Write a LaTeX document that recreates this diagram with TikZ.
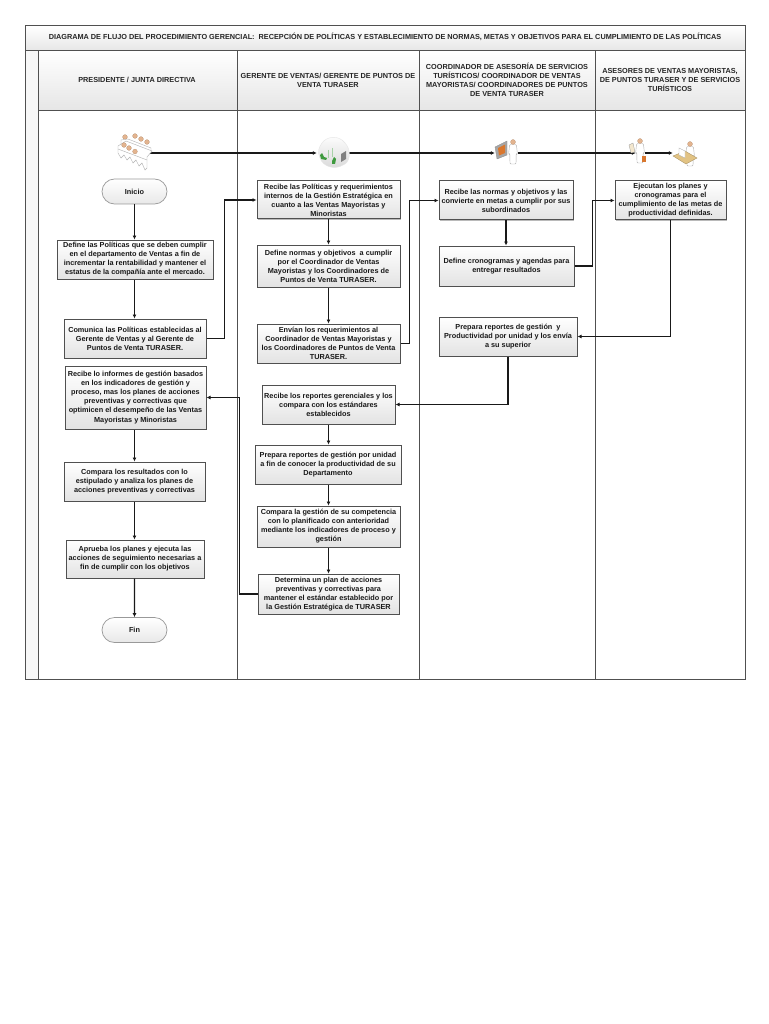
\documentclass[tikz,border=0pt]{standalone}
\usepackage{fontspec}
\setmainfont{Liberation Sans}
\usetikzlibrary{arrows.meta,shadows,shapes.misc}
\definecolor{rule}{HTML}{505050}
\definecolor{skin}{HTML}{E3B48F}
\definecolor{iconline}{HTML}{B0B0B0}
\definecolor{orangebit}{HTML}{D9772E}
\definecolor{greenbit}{HTML}{3E9A3E}
\definecolor{tan}{HTML}{E2C384}
\tikzset{
 txt/.style={font=\bfseries\fontsize{7.3}{9}\selectfont,text=black!90,align=center,inner sep=0pt},
 stepbox/.style={txt,draw=rule,line width=1pt,rectangle,top color=white,bottom color=black!11,
   drop shadow={shadow xshift=.9pt,shadow yshift=-.9pt,fill=black!45,opacity=.6}},
 term/.style={txt,draw=black!40,line width=.7pt,rounded rectangle,top color=white,bottom color=black!9,minimum width=65pt,minimum height=25pt},
 band/.style={draw=rule,line width=1pt,top color=white,bottom color=black!10},
 head/.style={txt,text=black!85},
 flow/.style={draw=black!90,line width=1.1pt,-{Latex[length=4pt,width=4pt]}},
 anchorbox/.style={inner sep=0pt,minimum width=#1,minimum height=26pt},
 ic/.style={draw=iconline,line width=.4pt,fill=white},
 sk/.style={draw=skin!80!black,line width=.2pt,fill=skin},
}
\newcommand{\fig}[2]{%
 \path[ic,rounded corners=1pt] (#1-3.4,#2+2.5) -- (#1+3.4,#2+2.5) -- (#1+4.4,#2+12) -- (#1+3.2,#2+12) -- (#1+3,#2+22) -- (#1-3,#2+22) -- (#1-3.2,#2+12) -- (#1-4.4,#2+12) -- cycle;
 \path[sk] (#1,#2) circle (2.5);}
\begin{document}
\begin{tikzpicture}[x=1pt,y=-1pt]
\useasboundingbox (0,0) rectangle (768,1024);
\fill[white] (0,0) rectangle (768,1024);
% frame
\path[draw=rule,line width=1pt,fill=black!3] (25,51) rectangle (38,679);
\path[draw=rule,line width=1pt] (38,111) rectangle (745,679);
\path[band] (25,26) rectangle (745,51);
\path[band] (38,51) rectangle (237,111);
\path[band] (237,51) rectangle (419,111);
\path[band] (419,51) rectangle (595,111);
\path[band] (595,51) rectangle (745,111);
\draw[rule,line width=1pt] (237,111) -- (237,679) (419,111) -- (419,679) (595,111) -- (595,679);
\node[head] (title) at (385,37) {DIAGRAMA DE FLUJO DEL PROCEDIMIENTO GERENCIAL:\ \ RECEPCIÓN DE POLÍTICAS Y ESTABLECIMIENTO DE NORMAS, METAS Y OBJETIVOS PARA EL CUMPLIMIENTO DE LAS POLÍTICAS};
\node[head] (h1) at (137,80) {PRESIDENTE / JUNTA DIRECTIVA};
\node[head] (h2) at (328,80) {GERENTE DE VENTAS/ GERENTE DE PUNTOS DE\\VENTA TURASER};
\node[head] (h3) at (507,80) {COORDINADOR DE ASESORÍA DE SERVICIOS\\TURÍSTICOS/ COORDINADOR DE VENTAS\\MAYORISTAS/ COORDINADORES DE PUNTOS\\DE VENTA TURASER};
\node[head] (h4) at (670,80) {ASESORES DE VENTAS MAYORISTAS,\\DE PUNTOS TURASER Y DE SERVICIOS\\TURÍSTICOS};

% icon anchors
\node[anchorbox=34pt] (i1) at (133,153) {};
\node[anchorbox=31pt] (i2) at (332.5,153) {};
\node[anchorbox=23pt] (i3) at (506.5,153) {};
\node[anchorbox=9pt] (i4) at (640.5,153) {};
\node[anchorbox=24pt] (i5) at (685,153) {};

% connectors along the icons
\draw[flow] (i1.east) -- (i2.west);
\draw[flow] (i2.east) -- (i3.west);
\draw[flow] (i3.east) -- (i4.west);
\draw[flow] (i4.east) -- (i5.west);

% icon 1 : conference table
\path[sk] (125,137) circle (2.4) (135,136) circle (2.4) (141,139) circle (2.4) (147,142) circle (2.4);
\path[ic] (121,140) -- (128,139) -- (151,148) -- (151,153) -- (144,153) -- (121,144) -- cycle;
\path[ic] (118,146) -- (126,141) -- (152,151) -- (147,157) -- (147,168) -- (145,170) -- (142,163) -- (139,166) -- (136,160) -- (133,163) -- (130,157) -- (127,160) -- (124,155) -- (121,158) -- (118,153) -- cycle;
\draw[iconline,line width=.4pt] (118,149) -- (147,160);
\path[sk] (124,145) circle (2.4) (129,148) circle (2.4) (135,151.5) circle (2.4);

% icon 2 : building
\path[top color=white,bottom color=black!15,draw=black!10,line width=.4pt] (322,143) .. controls (326,137) and (338,134) .. (345,143) .. controls (352,150) and (350,163) .. (343,165) .. controls (335,170) and (323,167) .. (320,158) .. controls (317,152) and (319,147) .. (322,143) -- cycle;
\path[fill=black!50] (341,154) -- (346,151) -- (346,159) -- (341,162) -- cycle;
\path[fill=greenbit] (320,155) -- (322,153) -- (324,157) -- (327,158) -- (326,160) -- (321,159) -- cycle;
\path[fill=greenbit] (332,161) -- (334,157) -- (336,159) -- (335,164) -- (332,164) -- cycle;
\draw[greenbit!45,line width=.6pt] (328,150) -- (328,158) (332,148) -- (332,157);

% icon 3 : presenter at a screen
\path[fill=black!35,draw=black!45,line width=.3pt] (495,147) -- (507,141) -- (507,155) -- (497,159) -- cycle;
\path[fill=orangebit] (498,148) -- (505,144.5) -- (505,153) -- (499,155.5) -- cycle;
\fig{513}{142}

% icon 4 : person with briefcase
\path[fill=tan!40,draw=black!40,line width=.3pt] (629,145) -- (633,143) -- (635,152) -- (631,153) -- cycle;
\fig{640}{141}
\path[fill=orangebit] (642,156) rectangle (646,162);

% icon 5 : person at a desk
\fig{690}{144}
\path[fill=tan,draw=tan!70!black,line width=.3pt] (673,156) -- (685,151) -- (697,158) -- (686,164) -- cycle;
\path[ic] (679,148) -- (685,151) -- (685,158) -- (679,155) -- cycle;

% terminals
\node[term] (inicio) at (134.5,191.5) {Inicio};
\node[term] (fin) at (134.5,630) {Fin};

% column 1
\node[stepbox,minimum width=156pt,minimum height=39pt] (a1) at (135,259.5) {Define las Políticas que se deben cumplir\\en el departamento de Ventas a fin de\\incrementar la rentabilidad y mantener el\\estatus de la compañía ante el mercado.};
\node[stepbox,minimum width=142pt,minimum height=39pt] (a2) at (135,338.5) {Comunica las Políticas establecidas al\\Gerente de Ventas y al Gerente de\\Puntos de Venta TURASER.};
\node[stepbox,minimum width=141pt,minimum height=63pt] (a3) at (135.5,397.5) {Recibe lo informes de gestión basados\\en los indicadores de gestión y\\proceso, mas los planes de acciones\\preventivas y correctivas que\\optimicen el desempeño de las Ventas\\[1.2pt]Mayoristas y Minoristas};
\node[stepbox,minimum width=141pt,minimum height=39pt] (a4) at (134.5,481.5) {Compara los resultados con lo\\estipulado y analiza los planes de\\acciones preventivas y correctivas};
\node[stepbox,minimum width=138pt,minimum height=38pt] (a5) at (135,559) {Aprueba los planes y ejecuta las\\acciones de seguimiento necesarias a\\fin de cumplir con los objetivos};

% column 2
\node[stepbox,minimum width=143pt,minimum height=38pt] (b1) at (328.5,200) {Recibe las Políticas y requerimientos\\internos de la Gestión Estratégica en\\cuanto a las Ventas Mayoristas y\\Minoristas};
\node[stepbox,minimum width=143pt,minimum height=42pt] (b2) at (328.5,266) {Define normas y objetivos\ \ a cumplir\\por el Coordinador de Ventas\\Mayoristas y los Coordinadores de\\Puntos de Venta TURASER.};
\node[stepbox,minimum width=143pt,minimum height=39pt] (b3) at (328.5,343.5) {Envían los requerimientos al\\Coordinador de Ventas Mayoristas y\\los Coordinadores de Puntos de Venta\\TURASER.};
\node[stepbox,minimum width=133pt,minimum height=39pt] (b4) at (328.5,404.5) {Recibe los reportes gerenciales y los\\compara con los estándares\\establecidos};
\node[stepbox,minimum width=146pt,minimum height=39pt] (b5) at (328,464.5) {Prepara reportes de gestión por unidad\\a fin de conocer la productividad de su\\Departamento};
\node[stepbox,minimum width=143pt,minimum height=41pt] (b6) at (328.5,526.5) {Compara la gestión de su competencia\\con lo planificado con anterioridad\\mediante los indicadores de proceso y\\gestión};
\node[stepbox,minimum width=141pt,minimum height=40pt] (b7) at (328.5,594) {Determina un plan de acciones\\preventivas y correctivas para\\mantener el estándar establecido por\\la Gestión Estratégica de TURASER};

% column 3
\node[stepbox,minimum width=134pt,minimum height=39pt] (c1) at (506,200.5) {Recibe las normas y objetivos y las\\convierte en metas a cumplir por sus\\subordinados};
\node[stepbox,minimum width=135pt,minimum height=40pt] (c2) at (506.5,266) {Define cronogramas y agendas para\\entregar resultados};
\node[stepbox,minimum width=138pt,minimum height=39pt] (c3) at (508,336.5) {Prepara reportes de gestión\ \ y\\Productividad por unidad y los envía\\a su superior};

% column 4
\node[stepbox,minimum width=111pt,minimum height=39pt] (d1) at (670.5,200.5) {Ejecutan los planes y\\cronogramas para el\\cumplimiento de las metas de\\productividad definidas.};

% helpers
\coordinate (r1) at (224.7,338);
\coordinate (r2) at (409.5,343);
\coordinate (r3) at (592.6,266);
\coordinate (r4) at (239.5,594);

% vertical connectors
\draw[flow] (inicio) -- (a1.north -| inicio.south);
\draw[flow] (a1.south -| inicio.south) -- (a2.north -| inicio.south);
\draw[flow] (a3.south -| inicio.south) -- (a4.north -| inicio.south);
\draw[flow] (a4.south -| inicio.south) -- (a5.north -| inicio.south);
\draw[flow] (a5.south -| inicio.south) -- (fin);
\draw[flow] (b1) -- (b2);
\draw[flow] (b2) -- (b3);
\draw[flow] (b4) -- (b5.north -| b4.south);
\draw[flow] (b5.south -| b4.south) -- (b6.north -| b4.south);
\draw[flow] (b6) -- (b7);
\draw[flow] (c1) -- (c2.north -| c1.south);

% elbow connectors
\draw[flow] (a2.east) -- (a2.east -| r1) |- (b1.west);
\draw[flow] (b3.east) -- (b3.east -| r2) |- (c1.west);
\draw[flow] (c2.east) -- (c2.east -| r3) |- (d1.west);
\draw[flow] (d1.south) |- (c3.east);
\draw[flow] (c3.south) |- (b4.east);
\draw[flow] (b7.west) -- (b7.west -| r4) |- (a3.east);
\end{tikzpicture}
\end{document}
